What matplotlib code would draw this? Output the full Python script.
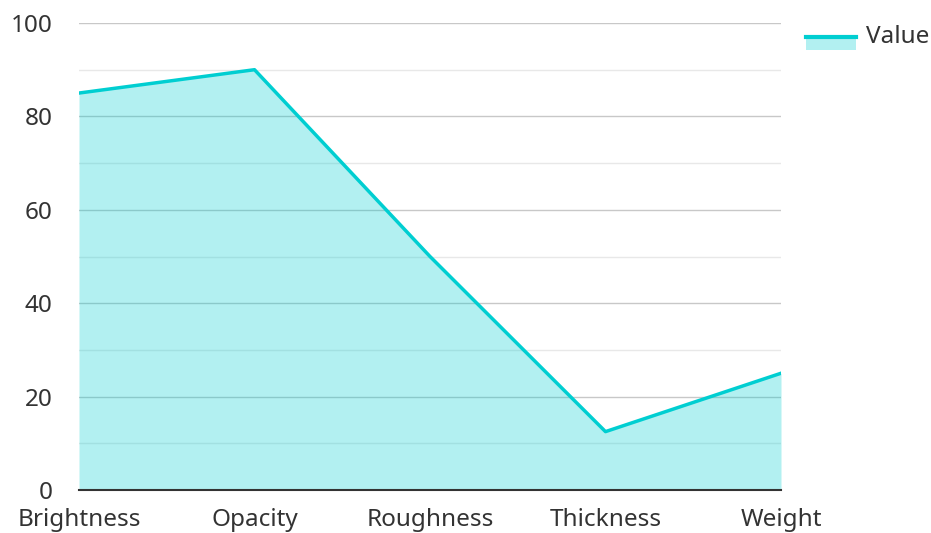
import matplotlib.pyplot as plt
from matplotlib.legend_handler import HandlerBase
from matplotlib.patches import Rectangle
from matplotlib.lines import Line2D
from matplotlib.ticker import MultipleLocator

plt.rcParams['font.family'] = ['Noto Sans', 'DejaVu Sans']

categories = ['Brightness', 'Opacity', 'Roughness', 'Thickness', 'Weight']
values = [85, 90, 50, 12.5, 25]
series_name = 'Value'

line_color = '#00CED1'
text_color = '#333333'


class AreaHandler(HandlerBase):
    # legend swatch: fill with a thick line on top
    def create_artists(self, legend, orig_handle, xdescent, ydescent,
                       width, height, fontsize, trans):
        top = -ydescent + height * 0.38
        bot = top - height * 0.78
        rect = Rectangle((-xdescent, bot), width, top - bot, facecolor=line_color,
                         alpha=0.3, edgecolor='none', transform=trans)
        ln = Line2D([-xdescent, -xdescent + width], [top, top],
                    color=line_color, lw=3, transform=trans)
        return [rect, ln]


fig = plt.figure(figsize=(9.31, 5.33), dpi=100)
ax = fig.add_axes([79 / 931, 1 - 490 / 533, (781 - 79) / 931, (490 - 23) / 533])

x = list(range(len(categories)))
ax.fill_between(x, values, 0, color=line_color, alpha=0.3, lw=0, zorder=2)
ax.plot(x, values, color=line_color, lw=2.5, zorder=3)

ax.set_xlim(0, len(categories) - 1)
ax.set_ylim(0, 100)
ax.set_xticks(x)
ax.set_xticklabels(categories)
ax.yaxis.set_major_locator(MultipleLocator(20))
ax.yaxis.set_minor_locator(MultipleLocator(10))

ax.set_axisbelow(True)
ax.grid(which='major', axis='y', color='#c8c8c8', lw=1)
ax.grid(which='minor', axis='y', color='#e8e8e8', lw=1)

for s in ['top', 'right', 'left']:
    ax.spines[s].set_visible(False)
ax.spines['bottom'].set_color(text_color)
ax.spines['bottom'].set_linewidth(1.5)
ax.spines['bottom'].set_zorder(4)

ax.tick_params(axis='both', which='both', length=0, labelsize=17.5, labelcolor=text_color)
ax.tick_params(axis='x', pad=13)
ax.tick_params(axis='y', pad=19)

handle = Rectangle((0, 0), 1, 1)
fig.legend([handle], [series_name], handler_map={Rectangle: AreaHandler()},
           loc='upper left', bbox_to_anchor=(806 / 931, 1 - 25 / 533),
           frameon=False, fontsize=17.5, handlelength=2.05, handletextpad=0.4,
           borderaxespad=0, borderpad=0, labelcolor=text_color)

fig.savefig('out.png', dpi=100)
